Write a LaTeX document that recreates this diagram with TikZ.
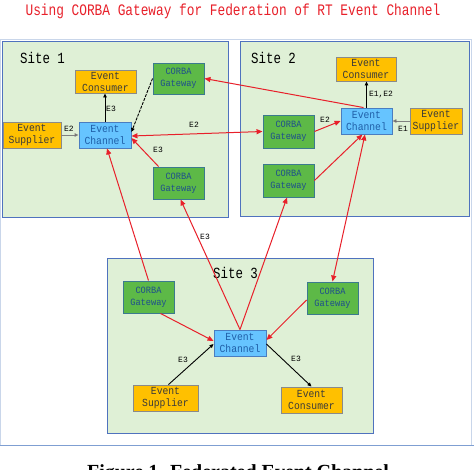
\documentclass[tikz,border=0pt]{standalone}
\usepackage{fontspec}
\setmainfont{Liberation Serif}
\newfontfamily\tallmono[FakeStretch=0.8]{Liberation Mono}
\newfontfamily\boxmono[FakeStretch=0.9]{Liberation Mono}
\newfontfamily\labmono{Liberation Mono}
\usetikzlibrary{arrows.meta}
\definecolor{sitefill}{HTML}{DFF0D6}
\definecolor{siteborder}{HTML}{4F72BE}
\definecolor{evorange}{HTML}{FFC000}
\definecolor{evborder}{HTML}{8A8A8A}
\definecolor{gwgreen}{HTML}{5DB947}
\definecolor{gwborder}{HTML}{3B7A8E}
\definecolor{chblue}{HTML}{66C4FF}
\definecolor{chborder}{HTML}{4A7DC0}
\definecolor{arrred}{HTML}{E8202A}
\definecolor{boxtext}{HTML}{3A3A3A}
\definecolor{gwtext}{HTML}{1F4E8C}
\definecolor{chtext}{HTML}{1F5FA8}
\definecolor{framecol}{HTML}{C9D6EA}
\definecolor{framebot}{HTML}{7F9FD2}
\begin{document}
\begin{tikzpicture}[x=1pt,y=-1pt,
  site/.style={draw=siteborder, fill=sitefill, line width=1pt},
  sitelabel/.style={font=\tallmono\fontsize{15.5}{15.5}\selectfont, text=black, inner sep=0pt},
  basebox/.style={align=center, inner sep=0pt, line width=0.9pt,
    font=\boxmono\fontsize{10.8}{12}\selectfont},
  evbox/.style={basebox, draw=evborder, fill=evorange, text=boxtext, minimum width=60pt, minimum height=25pt},
  gwbox/.style={basebox, draw=gwborder, fill=gwgreen, text=gwtext, minimum width=51pt, minimum height=32pt,
    font=\boxmono\fontsize{9.6}{12}\selectfont},
  chbox/.style={basebox, draw=chborder, fill=chblue, text=chtext, minimum width=52pt, minimum height=26pt},
  redarr/.style={draw=arrred, line width=1pt, -{Triangle[length=6pt,width=5pt]}},
  redboth/.style={draw=arrred, line width=1pt, {Triangle[length=6pt,width=5pt]}-{Triangle[length=6pt,width=5pt]}},
  blkarr/.style={draw=black, line width=0.9pt, -{Triangle[length=4pt,width=3.5pt]}},
  grayarr/.style={draw=gray, line width=0.9pt, -{Triangle[length=4pt,width=3.5pt,fill=black]}},
  lab/.style={font=\labmono\fontsize{8}{8}\selectfont, text=black, inner sep=0pt}
]
\useasboundingbox (0,0) rectangle (474,469);
\fill[white] (0,0) rectangle (474,469);

% title
\node[font=\tallmono\fontsize{16}{16}\selectfont, text=arrred, inner sep=0pt] (title) at (233,11) {Using CORBA Gateway for Federation of RT Event Channel};

% outer frame
\draw[framecol, line width=0.8pt] (0.5,39) rectangle (471,445);
\draw[framebot, line width=1pt] (0,445) -- (474,445);

% sites
\draw[site] (2,41) rectangle (228,217);
\draw[site] (240,41) rectangle (469,216);
\draw[site] (107,258) rectangle (373.5,433.5);
\node[sitelabel, anchor=west] (s1lab) at (20,58) {Site 1};
\node[sitelabel, anchor=west] (s2lab) at (251,58) {Site 2};
\node[sitelabel, anchor=west] (s3lab) at (213,273) {Site 3};

% Site 1 nodes
\node[evbox, minimum width=61pt, minimum height=23pt] (con1) at (105.5,81.5) {Event\\Consumer};
\node[gwbox, minimum height=31pt] (gw1a) at (178.5,78.5) {CORBA\\Gateway};
\node[evbox, minimum width=58pt, minimum height=26pt] (sup1) at (32,135) {Event\\Supplier};
\node[chbox] (ch1) at (105,135) {Event\\Channel};
\node[gwbox] (gw1b) at (178.5,183) {CORBA\\Gateway};

% Site 2 nodes
\node[evbox, minimum width=60pt, minimum height=24pt] (con2) at (366,69) {Event\\Consumer};
\node[gwbox, minimum height=33pt] (gw2a) at (288.5,131.5) {CORBA\\Gateway};
\node[chbox, minimum width=51pt] (ch2) at (366.5,121) {Event\\Channel};
\node[evbox, minimum width=52pt, minimum height=26pt] (sup2) at (436,121) {Event\\Supplier};
\node[gwbox, minimum height=33pt] (gw2b) at (288.5,180.5) {CORBA\\Gateway};

% Site 3 nodes
\node[gwbox] (gw3a) at (148.5,297) {CORBA\\Gateway};
\node[gwbox] (gw3b) at (332.5,298) {CORBA\\Gateway};
\node[chbox] (ch3) at (240,343) {Event\\Channel};
\node[evbox, minimum width=65pt, minimum height=26pt] (sup3) at (165.5,398) {Event\\Supplier};
\node[evbox, minimum width=61pt, minimum height=26pt] (con3) at (311.5,400) {Event\\Consumer};

% Site 1 connectors
\draw[blkarr] (ch1.north) -- (ch1.north |- con1.south);
\node[lab] (l1) at (111,109) {E3};
\draw[grayarr] (sup1.east) -- (ch1.west);
\node[lab] (l2) at (69,129) {E2};
\draw[blkarr, dash pattern=on 3pt off 1.2pt] (gw1a.west) -- ([yshift=3pt]ch1.east);

% inter-site red connectors
\draw[redarr] ([xshift=-3pt]ch2.north) -- (gw1a.east);
\draw[redboth] ([yshift=-1pt]ch1.east) -- (gw2a.west);
\node[lab] (l3) at (194,125) {E2};
\draw[redarr] ([xshift=6pt]gw1b.north west) -- ([yshift=-3pt]ch1.east);
\node[lab] (l4) at (158,150) {E3};
\draw[redarr] (gw3a.north) -- ([xshift=2pt]ch1.south);
\draw[redarr] (ch3.north) -- ([xshift=2pt]gw1b.south);
\node[lab] (l5) at (205,237) {E3};
\draw[redarr] (ch3.north) -- ([xshift=-1.5pt]gw2b.south);
\draw[redboth] ([xshift=-1.5pt]ch2.south) -- (gw3b.north);

% Site 2 connectors
\draw[redarr] (gw2b.east) -- ([xshift=-4pt]ch2.south);
\draw[redarr] (gw2a.east) -- (ch2.west);
\node[lab] (l6) at (325,120) {E2};
\draw[blkarr] (ch2.north) -- (ch2.north |- con2.south);
\node[lab] (l7) at (381,95) {E1,E2};
\draw[grayarr] (sup2.west) -- (ch2.east);
\node[lab] (l8) at (403,129) {E1};

% Site 3 connectors
\draw[redarr] ([xshift=12pt]gw3a.south) -- ([yshift=2pt]ch3.west);
\draw[redarr] ([yshift=-2pt]gw3b.west) -- ([yshift=3pt]ch3.east);
\draw[blkarr] ([xshift=3pt]sup3.north) -- ([yshift=-1pt]ch3.west);
\node[lab] (l9) at (183,360) {E3};
\draw[blkarr] ([yshift=-1pt]ch3.east) -- (con3.north);
\node[lab] (l10) at (296,359) {E3};

% caption (cut off at the bottom edge, as in the reference)
\node[font=\bfseries\fontsize{20}{20}\selectfont, anchor=base, inner sep=0pt] (cap) at (238,478.5) {Figure 1. Federated Event Channel};
\end{tikzpicture}
\end{document}
